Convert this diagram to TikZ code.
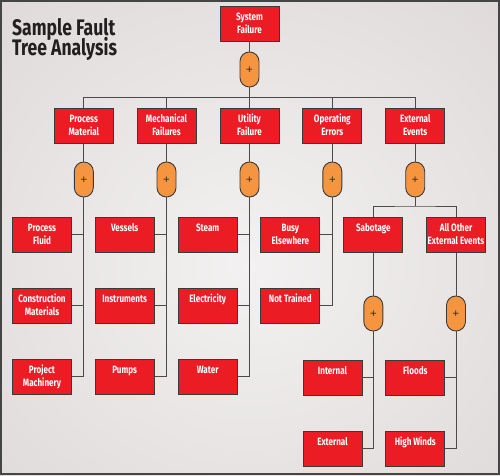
\documentclass[tikz,border=0pt]{standalone}
\usepackage{fontspec}
\newfontfamily\cond{Fira Sans}[FakeStretch=0.76]
\newfontfamily\ttlfont{Fira Sans}[FakeStretch=0.78]
\newfontfamily\plainf{DejaVu Sans}
\definecolor{boxred}{HTML}{EC1C24}
\definecolor{gateor}{HTML}{F59540}
\definecolor{boxline}{HTML}{3A3A3A}
\definecolor{connline}{HTML}{4A4A4A}
\definecolor{titlecol}{HTML}{231F20}
\definecolor{bglight}{HTML}{F3F1F1}
\definecolor{bgmid}{HTML}{DCD7D6}
\definecolor{bgdark}{HTML}{D0CAC9}
\definecolor{framecol}{HTML}{454545}
\pgfdeclareradialshading{bgshade}{\pgfpoint{0bp}{-3bp}}{color(0bp)=(bglight); color(42bp)=(bgmid); color(72bp)=(bgdark)}
\newcommand{\bt}[1]{\parbox[c][25pt][t]{58pt}{\centering\strut #1}}
\begin{document}
\begin{tikzpicture}[x=1pt,y=-1pt,
  box/.style={draw=boxline, line width=0.9pt, fill=boxred, minimum width=59pt, minimum height=35pt, inner sep=0pt, text=white, font=\cond\bfseries\fontsize{10.6}{13}\selectfont},
  gate/.style={draw=boxline, line width=0.9pt, fill=gateor, rectangle, rounded corners=9.4pt, minimum width=19pt, minimum height=35pt, inner sep=0pt, text=titlecol, font=\plainf\fontsize{9}{9}\selectfont},
  conn/.style={draw=connline, line width=1pt},
  ttl/.style={anchor=base west, inner sep=0pt, text=titlecol, font=\ttlfont\bfseries\fontsize{22.5}{21}\selectfont}]
\useasboundingbox (0,0) rectangle (500,475);
\shade[shading=bgshade] (0,0) rectangle (500,475);
\draw[framecol, line width=2pt] (1,1) rectangle (499,474);
% title
\node[ttl] (t1) at (12,35) {Sample Fault};
\node[ttl] (t2) at (12,55.5) {Tree Analysis};
% level 1
\node[box] (sys) at (249.5,23.5) {\bt{System\\Failure}};
\node[gate] (g0) at (249.5,69.5) {+};
\coordinate (bus0) at (249.5,97.7);
% level 2
\node[box] (pm) at (83.8,125.8) {\bt{Process\\Material}};
\node[box] (mf) at (166.5,125.8) {\bt{Mechanical\\Failures}};
\node[box] (uf) at (249.5,125.8) {\bt{Utility\\Failure}};
\node[box] (oe) at (332.3,125.8) {\bt{Operating\\Errors}};
\node[box] (ee) at (415.2,125.8) {\bt{External\\Events}};
\node[gate] (gpm) at (83.8,179.5) {+};
\node[gate] (gmf) at (166.5,179.5) {+};
\node[gate] (guf) at (249.5,179.5) {+};
\node[gate] (goe) at (332.3,179.5) {+};
\node[gate] (gee) at (415.2,179.5) {+};
% level 3
\node[box] (pf) at (42,234.8) {\bt{Process\\Fluid}};
\node[box] (cm) at (42,305.8) {\bt{Construction\\Materials}};
\node[box] (pj) at (42,376.8) {\bt{Project\\Machinery}};
\node[box] (ve) at (124.7,234.8) {\bt{Vessels}};
\node[box] (in) at (124.7,305.8) {\bt{Instruments}};
\node[box] (pu) at (124.7,376.8) {\bt{Pumps}};
\node[box] (st) at (207.7,234.8) {\bt{Steam}};
\node[box] (el) at (207.7,305.8) {\bt{Electricity}};
\node[box] (wa) at (207.7,376.8) {\bt{Water}};
\node[box] (be) at (290.3,234.8) {\bt{Busy\\Elsewhere}};
\node[box] (nt) at (290.3,305.8) {\bt{Not Trained}};
\node[box] (sab) at (373.3,234.8) {\bt{Sabotage}};
\node[box] (aoe) at (456,234.8) {\bt{All Other\\External Events}};
\coordinate (bus1) at (415.2,206);
\node[gate] (gsab) at (373.3,313.5) {+};
\node[gate] (gaoe) at (456,313.5) {+};
\node[box] (int) at (332.5,377.8) {\bt{Internal}};
\node[box] (ext) at (332.5,448.8) {\bt{External}};
\node[box] (fl) at (415.3,377.8) {\bt{Floods}};
\node[box] (hw) at (415.3,448.8) {\bt{High Winds}};
% connectors
\draw[conn] (sys) -- (g0);
\draw[conn] (g0) -- (bus0);
\draw[conn] (pm.north) |- (bus0) -| (ee.north);
\draw[conn] (mf.north) -- (mf.north |- bus0);
\draw[conn] (uf.north) -- (bus0);
\draw[conn] (oe.north) -- (oe.north |- bus0);
\draw[conn] (pm) -- (gpm);
\draw[conn] (mf) -- (gmf);
\draw[conn] (uf) -- (guf);
\draw[conn] (oe) -- (goe);
\draw[conn] (ee) -- (gee);
\draw[conn] (gpm.south) |- (pj.east);
\draw[conn] (pf.east) -- (pf.east -| gpm);
\draw[conn] (cm.east) -- (cm.east -| gpm);
\draw[conn] (gmf.south) |- (pu.east);
\draw[conn] (ve.east) -- (ve.east -| gmf);
\draw[conn] (in.east) -- (in.east -| gmf);
\draw[conn] (guf.south) |- (wa.east);
\draw[conn] (st.east) -- (st.east -| guf);
\draw[conn] (el.east) -- (el.east -| guf);
\draw[conn] (goe.south) |- (nt.east);
\draw[conn] (be.east) -- (be.east -| goe);
\draw[conn] (gee) -- (bus1);
\draw[conn] (sab.north) |- (bus1) -| (aoe.north);
\draw[conn] (sab) -- (gsab);
\draw[conn] (aoe) -- (gaoe);
\draw[conn] (gsab.south) |- (ext.east);
\draw[conn] (int.east) -- (int.east -| gsab);
\draw[conn] (gaoe.south) |- (hw.east);
\draw[conn] (fl.east) -- (fl.east -| gaoe);
\end{tikzpicture}
\end{document}
